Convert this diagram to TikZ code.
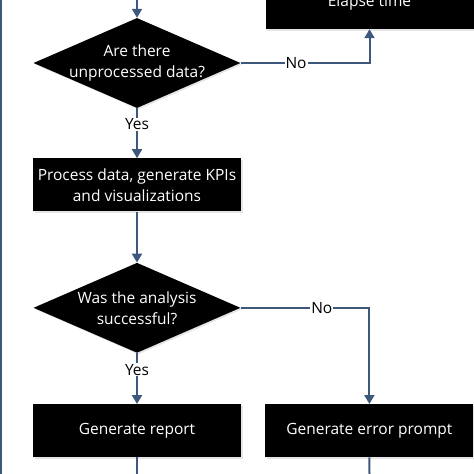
\documentclass[tikz,border=0pt]{standalone}
\usepackage{fontspec}
\setmainfont{Open Sans}
\usetikzlibrary{positioning,shapes.geometric,arrows.meta,shadows}
\definecolor{flowblue}{RGB}{62,88,124}

\begin{document}
\begin{tikzpicture}[x=1pt, y=-1pt,
    every node/.style={font=\fontsize{15.5}{21}\selectfont},
    stepbox/.style={rectangle, fill=black, text=white, minimum width=208pt,
        minimum height=53pt, inner sep=0pt, align=center,
        drop shadow={shadow xshift=1.5pt, shadow yshift=-1.5pt, fill=black!20}},
    query/.style={diamond, fill=black, text=white, minimum width=207pt,
        minimum height=90pt, inner xsep=-14pt, inner ysep=-8pt, aspect=2.3, align=center,
        drop shadow={shadow xshift=1.5pt, shadow yshift=-1.5pt, fill=black!20}},
    flow/.style={draw=flowblue, line width=2pt},
    arr/.style={flow, -{Triangle[width=10pt, length=9pt]}},
    lbl/.style={fill=white, inner sep=1pt, text=black},
    node distance=50pt and 24pt]
    \clip (0,0) rectangle (474,474);
    \useasboundingbox (0,0) rectangle (474,474);

    % loop side
    \node[stepbox] (elapse) at (369.5,2.5) {Elapse time};
    \node[query] (unproc) at (137,63) {Are there\\unprocessed data?};
    \node[stepbox, below=of unproc] (process) {Process data, generate KPIs\\and visualizations};
    \node[query, below=51pt of process] (success) {Was the analysis\\successful?};
    \node[stepbox, below=51pt of success] (report) {Generate report};
    \node[stepbox, right=of report] (error) {Generate error prompt};

    % free ends at the border
    \coordinate (intop) at (137,0);
    \coordinate (backtop) at (1,0);
    \coordinate (backbot) at (1,474);
    \coordinate (reportout) at (137,474);
    \coordinate (errorout) at (369.5,474);

    \draw[flow] (backtop) -- (backbot);
    \draw[arr] (intop) -- (unproc.north);
    \draw[arr] (unproc.south) -- node[lbl, pos=0.32]{Yes} (process.north);
    \draw[arr] (unproc.east) -- node[lbl, pos=0.43]{No} (elapse.south |- unproc.east) -- (elapse.south);
    \draw[arr] (process.south) -- (success.north);
    \draw[arr] (success.south) -- node[lbl, pos=0.33]{Yes} (report.north);
    \draw[arr] (success.east) -- node[lbl, pos=0.63]{No} (error.north |- success.east) -- (error.north);
    \draw[flow] (report.south) -- (reportout);
    \draw[flow] (error.south) -- (errorout);
\end{tikzpicture}
\end{document}
